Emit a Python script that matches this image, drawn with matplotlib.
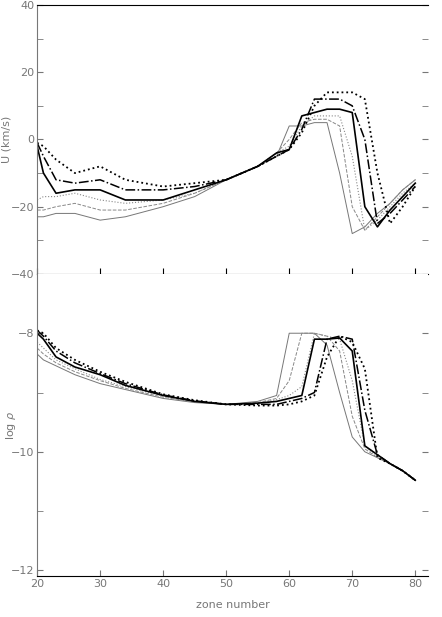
import matplotlib.pyplot as plt

zones = [20, 21, 23, 26, 30, 34, 40, 45, 50, 55, 58, 60, 62, 64, 66, 68, 70, 72, 74, 76, 78, 80]

# velocity (km/s), earliest -> latest
u_1 = [-23, -23, -22, -22, -24, -23, -20, -17, -12, -8, -5, 4, 4, 5, 5, -10, -28, -26, -22, -19, -15, -12]
u_2 = [-21, -21, -20, -19, -21, -21, -19, -16, -12, -8, -4, 0, 5, 6, 6, 4, -20, -27, -23, -19, -15, -12]
u_3 = [-18, -17, -17, -16, -18, -19, -18, -16, -12, -8, -4, -2, 4, 7, 7, 7, -5, -27, -24, -20, -16, -13]
u_4 = [-2, -10, -16, -15, -15, -18, -18, -15, -12, -8, -4, -3, 7, 8, 9, 9, 8, -20, -26, -21, -17, -13]
u_5 = [-1, -5, -12, -13, -12, -15, -15, -14, -12, -8, -5, -3, 3, 12, 12, 12, 10, 0, -25, -22, -18, -14]
u_6 = [-1, -2, -6, -10, -8, -12, -14, -13, -12, -8, -5, -3, 2, 10, 14, 14, 14, 12, -10, -25, -20, -14]

# log density
rho_1 = [-8.35, -8.45, -8.55, -8.7, -8.85, -8.95, -9.1, -9.17, -9.2, -9.15, -9.05, -8.0, -8.0, -8.0, -8.2, -9.0, -9.75, -10.0, -10.1, -10.2, -10.32, -10.48]
rho_2 = [-8.25, -8.35, -8.5, -8.65, -8.8, -8.93, -9.08, -9.16, -9.2, -9.17, -9.1, -8.8, -8.0, -8.0, -8.05, -8.3, -9.4, -9.95, -10.1, -10.2, -10.32, -10.48]
rho_3 = [-8.15, -8.25, -8.45, -8.6, -8.78, -8.9, -9.06, -9.15, -9.2, -9.18, -9.12, -9.05, -8.9, -8.0, -8.05, -8.1, -8.8, -9.9, -10.1, -10.2, -10.32, -10.48]
rho_4 = [-8.0, -8.1, -8.4, -8.57, -8.7, -8.88, -9.05, -9.15, -9.2, -9.18, -9.15, -9.1, -9.05, -8.1, -8.1, -8.08, -8.3, -9.9, -10.05, -10.2, -10.32, -10.48]
rho_5 = [-7.95, -8.05, -8.3, -8.5, -8.68, -8.85, -9.04, -9.14, -9.2, -9.2, -9.2, -9.15, -9.1, -9.0, -8.1, -8.05, -8.1, -9.3, -10.05, -10.2, -10.32, -10.48]
rho_6 = [-7.95, -8.0, -8.25, -8.45, -8.65, -8.82, -9.03, -9.13, -9.2, -9.22, -9.22, -9.2, -9.15, -9.05, -8.4, -8.05, -8.15, -8.6, -10.1, -10.2, -10.32, -10.48]

u_all = [u_1, u_2, u_3, u_4, u_5, u_6]
rho_all = [rho_1, rho_2, rho_3, rho_4, rho_5, rho_6]
styles = [('#777777', '-', 0.7), ('#888888', '--', 0.7), ('#888888', ':', 0.8),
          ('black', '-', 1.2), ('black', '-.', 1.1), ('black', ':', 1.3)]

grey = '#777777'
fig = plt.figure(figsize=(4.42, 6.17), dpi=100)
ax1 = fig.add_axes([0.084, 0.556, 0.884, 0.436])
ax2 = fig.add_axes([0.084, 0.066, 0.884, 0.490])

for ax, data in ((ax1, u_all), (ax2, rho_all)):
    for y, (c, ls, lw) in zip(data, styles):
        ax.plot(zones, y, color=c, linestyle=ls, linewidth=lw)
    ax.set_xlim(20, 82)
    ax.set_xticks(range(20, 81, 10))
    ax.tick_params(direction='in', right=True, labelsize=8, colors=grey, length=4, pad=2)
    ax.tick_params(which='minor', direction='in', right=True, length=4, colors=grey)
    ax.spines['left'].set_color(grey)
    ax.spines['right'].set_visible(False)

ax1.set_ylim(-40, 40)
ax1.set_yticks([-40, -20, 0, 20, 40])
ax1.set_yticks([-30, -10, 10, 30], minor=True)
ax1.tick_params(axis='x', labelbottom=False, colors='black')
ax1.set_ylabel('U (km/s)', color=grey, fontsize=8)
ax1.yaxis.set_label_coords(-0.065, 0.5)

ax2.set_ylim(-12.1, -7.0)
ax2.set_yticks([-12, -10, -8])
ax2.set_yticks([-11, -9], minor=True)
ax2.spines['top'].set_visible(False)
ax2.set_ylabel(r'log $\rho$', color=grey, fontsize=8)
ax2.yaxis.set_label_coords(-0.05, 0.5)
ax2.set_xlabel('zone number', color=grey, fontsize=8, labelpad=8)

fig.savefig('out.png', dpi=100)
